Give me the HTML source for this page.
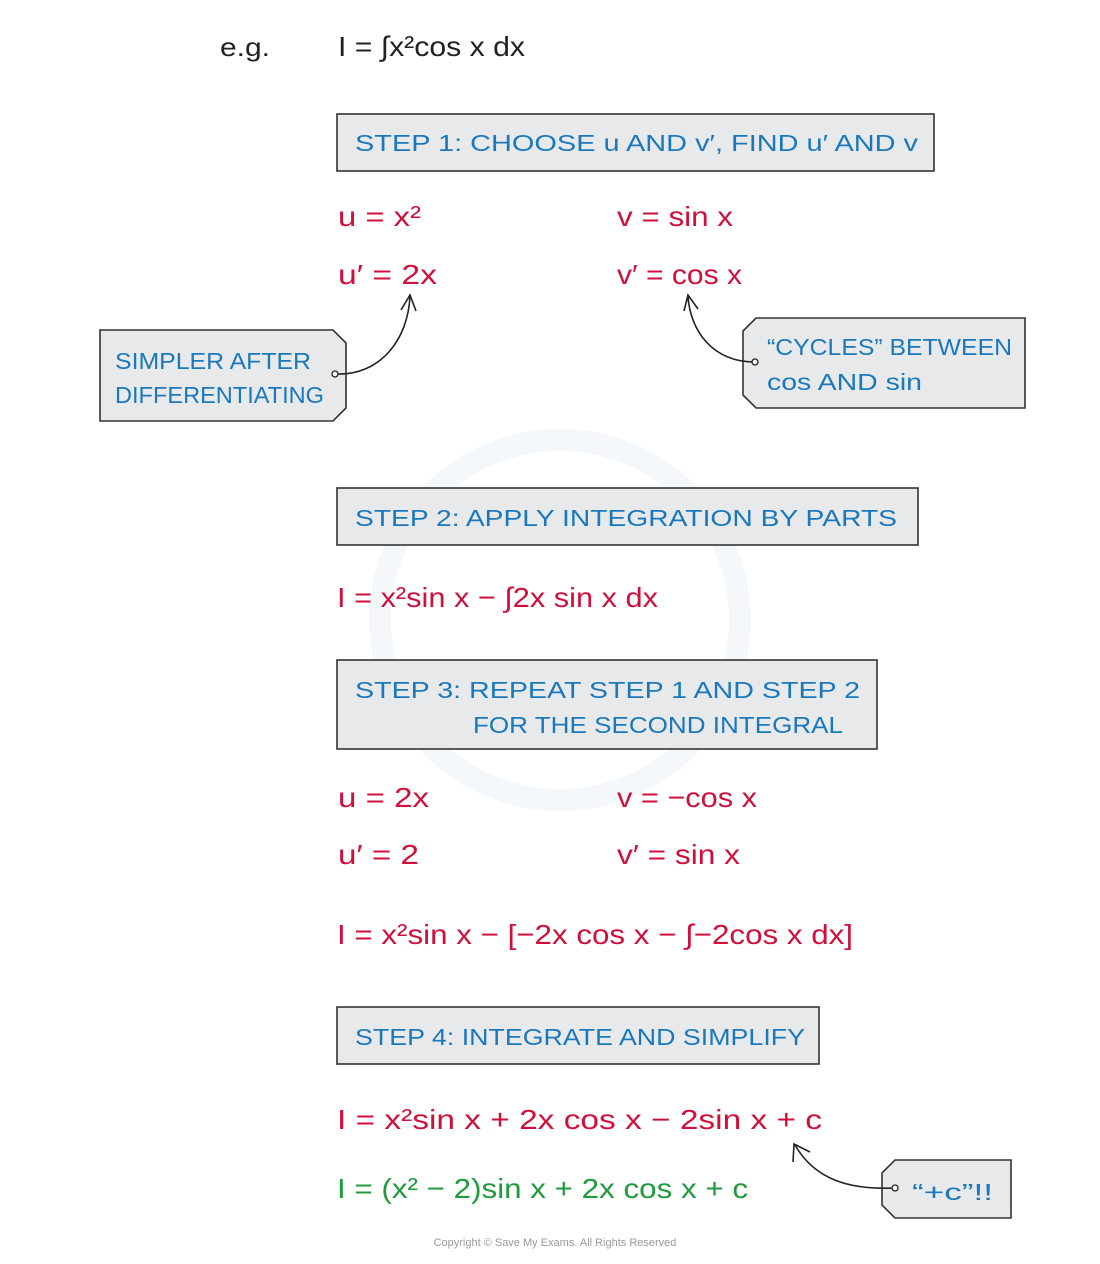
<!DOCTYPE html>
<html><head><meta charset="utf-8"><style>
html,body{margin:0;padding:0;background:#fff;}
svg{display:block;}
text{font-family:"Liberation Sans","DejaVu Sans",sans-serif;}
.b{fill:#1a78bd;font-size:23px;}
.r{fill:#d0103a;font-size:28px;}
.g{fill:#1f9a3c;font-size:28px;}
.box{fill:#e8e9ea;stroke:#333;stroke-width:1.6;}
</style></head><body>
<svg width="1100" height="1264" viewBox="0 0 1100 1264" xmlns="http://www.w3.org/2000/svg">
<circle cx="560" cy="620" r="180" fill="none" stroke="#f4f8fb" stroke-width="22"/>
<text x="220" y="56" font-size="26" fill="#222" textLength="50" lengthAdjust="spacingAndGlyphs">e.g.</text>
<text x="338" y="56" font-size="28" fill="#222" textLength="187" lengthAdjust="spacingAndGlyphs">I = ∫x²cos x dx</text>

<rect class="box" x="337" y="114" width="597" height="57"/>
<text class="b" x="355" y="151" textLength="563" lengthAdjust="spacingAndGlyphs">STEP  1:  CHOOSE  u  AND  v′,   FIND  u′  AND  v</text>

<text class="r" x="338" y="226" textLength="83" lengthAdjust="spacingAndGlyphs">u = x²</text>
<text class="r" x="617" y="226" textLength="116" lengthAdjust="spacingAndGlyphs">v = sin x</text>
<text class="r" x="338" y="284" textLength="99" lengthAdjust="spacingAndGlyphs">u′ = 2x</text>
<text class="r" x="617" y="284" textLength="125" lengthAdjust="spacingAndGlyphs">v′ = cos x</text>

<path class="box" d="M100,330 H333 L346,343 V408 L333,421 H100 Z"/>
<text class="b" x="115" y="369" textLength="196" lengthAdjust="spacingAndGlyphs">SIMPLER  AFTER</text>
<text class="b" x="115" y="403" textLength="209" lengthAdjust="spacingAndGlyphs">DIFFERENTIATING</text>
<path d="M335,374 C380,376 408,340 410,296" fill="none" stroke="#222" stroke-width="1.6"/>
<path d="M401,310 L410,295 L416,311" fill="none" stroke="#222" stroke-width="1.6"/>
<circle cx="335" cy="374" r="3" fill="#fff" stroke="#222" stroke-width="1.3"/>

<path class="box" d="M756,318 H1025 V408 H756 L743,395 V331 Z"/>
<text class="b" x="767" y="355" textLength="245" lengthAdjust="spacingAndGlyphs">“CYCLES”  BETWEEN</text>
<text class="b" x="767" y="390" font-size="21" textLength="155" lengthAdjust="spacingAndGlyphs">cos   AND   sin</text>
<path d="M755,362 C712,362 690,330 688,296" fill="none" stroke="#222" stroke-width="1.6"/>
<path d="M684,311 L688,295 L698,309" fill="none" stroke="#222" stroke-width="1.6"/>
<circle cx="755" cy="362" r="3" fill="#fff" stroke="#222" stroke-width="1.3"/>

<rect class="box" x="337" y="488" width="581" height="57"/>
<text class="b" x="355" y="526" textLength="542" lengthAdjust="spacingAndGlyphs">STEP  2:   APPLY   INTEGRATION   BY   PARTS</text>

<text class="r" x="337" y="607" textLength="321" lengthAdjust="spacingAndGlyphs">I = x²sin x − ∫2x sin x dx</text>

<rect class="box" x="337" y="660" width="540" height="89"/>
<text class="b" x="355" y="698" textLength="505" lengthAdjust="spacingAndGlyphs">STEP   3:  REPEAT   STEP 1   AND   STEP 2</text>
<text class="b" x="473" y="733" textLength="370" lengthAdjust="spacingAndGlyphs">FOR  THE  SECOND  INTEGRAL</text>

<text class="r" x="338" y="807" textLength="91" lengthAdjust="spacingAndGlyphs">u = 2x</text>
<text class="r" x="617" y="807" textLength="140" lengthAdjust="spacingAndGlyphs">v = −cos x</text>
<text class="r" x="338" y="864" textLength="81" lengthAdjust="spacingAndGlyphs">u′ = 2</text>
<text class="r" x="617" y="864" textLength="123" lengthAdjust="spacingAndGlyphs">v′ = sin x</text>

<text class="r" x="337" y="944" textLength="516" lengthAdjust="spacingAndGlyphs">I = x²sin x − [−2x cos x − ∫−2cos x dx]</text>

<rect class="box" x="337" y="1007" width="482" height="57"/>
<text class="b" x="355" y="1045" textLength="450" lengthAdjust="spacingAndGlyphs">STEP   4:  INTEGRATE   AND   SIMPLIFY</text>

<text class="r" x="337" y="1129" textLength="485" lengthAdjust="spacingAndGlyphs">I = x²sin x  + 2x cos x  − 2sin x + c</text>
<text class="g" x="337" y="1198" textLength="411" lengthAdjust="spacingAndGlyphs">I = (x² − 2)sin x + 2x cos x + c</text>

<path class="box" d="M895,1160 H1011 V1218 H895 L882,1205 V1173 Z"/>
<text class="b" x="912" y="1200" textLength="81" lengthAdjust="spacingAndGlyphs">“+c”!!</text>
<path d="M895,1188 C850,1190 815,1180 795,1145" fill="none" stroke="#222" stroke-width="1.6"/>
<path d="M793,1162 L794,1144 L810,1152" fill="none" stroke="#222" stroke-width="1.6"/>
<circle cx="895" cy="1188" r="3" fill="#fff" stroke="#222" stroke-width="1.3"/>

<text x="555" y="1246" font-size="11" fill="#999" text-anchor="middle">Copyright © Save My Exams. All Rights Reserved</text>
</svg>
</body></html>
